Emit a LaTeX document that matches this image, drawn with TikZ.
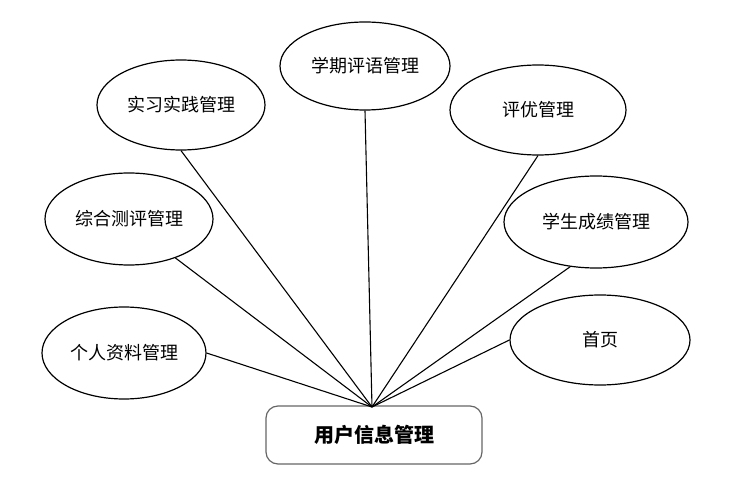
\documentclass[tikz,border=0pt]{standalone}
\usepackage{fontspec}
\setmainfont{Noto Sans CJK SC}
\usetikzlibrary{shapes.geometric}
\begin{document}
\begin{tikzpicture}[x=1pt,y=-1pt,
  el/.style={draw,ellipse,line width=1.2pt,inner sep=0pt,font=\fontsize{18}{20}\selectfont},
  ln/.style={line width=1.1pt}]
\useasboundingbox (0,0) rectangle (747,478);
\node[el,minimum width=168,minimum height=90] (a) at (181,105) {实习实践管理};
\node[el,minimum width=170,minimum height=88] (b) at (365,66) {学期评语管理};
\node[el,minimum width=176,minimum height=90] (c) at (538,110) {评优管理};
\node[el,minimum width=168,minimum height=92] (d) at (129,219) {综合测评管理};
\node[el,minimum width=184,minimum height=92] (e) at (596,222) {学生成绩管理};
\node[el,minimum width=164,minimum height=92] (f) at (124,353) {个人资料管理};
\node[el,minimum width=180,minimum height=90] (g) at (600,340) {首页};
\node[draw=black!60,line width=1.2pt,rounded corners=12pt,minimum width=216,minimum height=58,font=\fontsize{20}{22}\selectfont\bfseries] (r) at (374,435) {用户信息管理};
\coordinate (t) at (372,407);
\draw[ln] (a.south) -- (t);
\draw[ln] (b.south) -- (t);
\draw[ln] (c.south) -- (t);
\draw[ln] (d.-40) -- (t);
\draw[ln] (e.-120) -- (t);
\draw[ln] (f.east) -- (t);
\draw[ln] (g.west) -- (t);
\end{tikzpicture}
\end{document}
